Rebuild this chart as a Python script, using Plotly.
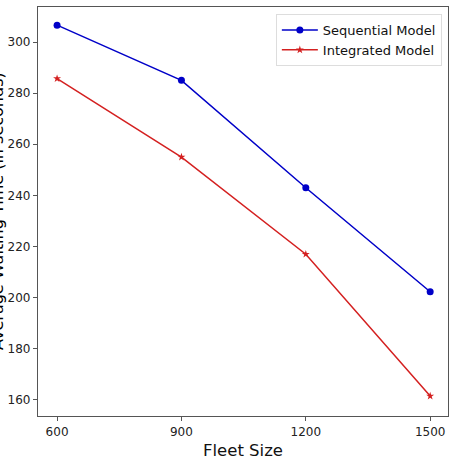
import plotly.graph_objects as go

fleet_size = [600, 900, 1200, 1500]
sequential = [306.6, 285.0, 243.0, 202.3]
integrated = [285.7, 255.0, 217.0, 161.5]
x_ticks = [600, 900, 1200, 1500]
y_ticks = [160, 180, 200, 220, 240, 260, 280, 300]

fig = go.Figure()
fig.add_trace(go.Scatter(x=fleet_size, y=sequential, mode="lines+markers",
                         name="Sequential Model",
                         line=dict(color="#0000c8", width=1.5),
                         marker=dict(symbol="circle", size=7, color="#0000c8")))
fig.add_trace(go.Scatter(x=fleet_size, y=integrated, mode="lines+markers",
                         name="Integrated Model",
                         line=dict(color="#d42020", width=1.5),
                         marker=dict(symbol="star", size=6, color="#d42020")))

axis_common = dict(showline=True, linecolor="#555555", linewidth=1.2, mirror=True,
                   ticks="outside", ticklen=4, tickcolor="#555555", showgrid=False,
                   zeroline=False, tickfont=dict(size=12, color="#222222"))

fig.update_layout(
    width=474, height=474,
    margin=dict(l=38, r=26, t=7, b=58),
    paper_bgcolor="white", plot_bgcolor="white",
    font=dict(family="DejaVu Sans", color="#111111"),
    xaxis=dict(range=[554, 1543], tickvals=x_ticks, ticktext=[str(v) for v in x_ticks],
               title=dict(text="Fleet Size", font=dict(size=16.5), standoff=6), **axis_common),
    yaxis=dict(range=[153.7, 313.7], tickvals=y_ticks, ticktext=[str(v) for v in y_ticks],
               automargin=False, **axis_common),
    legend=dict(x=0.985, y=0.983, xanchor="right", yanchor="top",
                bgcolor="white", bordercolor="#dddddd", borderwidth=1,
                font=dict(size=13, color="#111111"), tracegroupgap=0, itemwidth=36),
    showlegend=True,
    annotations=[dict(text="Average Waiting Time (in seconds)", textangle=-90,
                      xref="paper", yref="paper", x=-0.0707, y=0.5,
                      xanchor="right", yanchor="middle", showarrow=False,
                      font=dict(size=16, color="#000000"))],
)

fig.write_html("out.html")
